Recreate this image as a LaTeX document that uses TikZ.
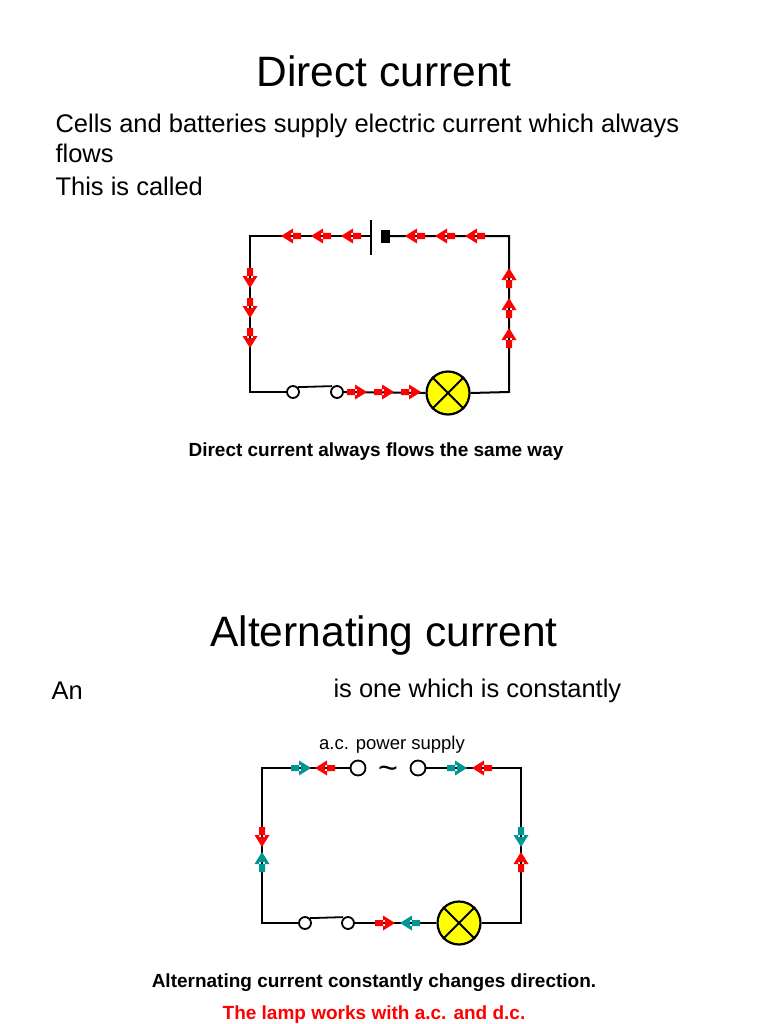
\documentclass[tikz,border=0pt]{standalone}
\usepackage{fontspec}
\setmainfont{Liberation Sans}
\definecolor{teal2}{RGB}{0,150,150}
\definecolor{red2}{RGB}{255,0,0}
\definecolor{lampy}{RGB}{255,255,0}
\newcommand\carrow[4]{\fill[#4,shift={(#1,#2)},rotate=#3] (-11,-3) rectangle (-1,3) (-3,-7.5) -- (9,0) -- (-3,7.5) -- cycle;}
\tikzset{wire/.style={line width=2pt,black},
 term/.style={circle,draw,line width=1.8pt,fill=white,minimum size=12pt,inner sep=0pt},
 lampnode/.style={circle,draw,line width=2.2pt,fill=lampy,minimum size=43pt,inner sep=0pt},
 title/.style={font=\fontsize{42.5}{46}\selectfont},
 body/.style={font=\fontsize{25.5}{28}\selectfont,anchor=west},
 caption/.style={font=\fontsize{19}{22}\selectfont\bfseries}}
\begin{document}
\begin{tikzpicture}[x=1pt,y=1pt]
\useasboundingbox (0,0) rectangle (768,-1024);
% texts
\node[title] at (384,-71) {Direct current};
\node[body] at (52,-126) {Cells and batteries supply electric current which always};
\node[body] at (52,-153) {flows};
\node[body] at (52,-186) {This is called};
\node[caption] (c1) at (376,-452) {Direct current always flows the same way};
\node[title] at (384,-636) {Alternating current};
\node[body] at (48,-691) {An};
\node[body] at (330,-691) {is one which is constantly};
\node[font=\fontsize{18.5}{20}\selectfont] at (392,-745) {a.c. power supply};
\node[caption] at (374,-983) {Alternating current constantly changes direction.};
\node[caption,red2] at (374,-1015) {The lamp works with a.c. and d.c.};
% DC circuit
\coordinate (tl) at (250,-236); \coordinate (tr) at (509,-236);
\coordinate (bl) at (250,-392); \coordinate (br) at (509,-392);
\node[term] (s1) at (293,-392) {};
\node[term] (s2) at (337,-392) {};
\node[lampnode] (L1) at (448,-393) {};
\draw[wire] (371,-236) -- (tl) -- (bl) -- (s1.west);
\draw[wire] (s2.east) -- (L1.west);
\draw[wire] (L1.east) -- (br) -- (tr) -- (388,-236);
\draw[line width=2pt] (371,-220) -- (371,-255);
\fill (381,-230) rectangle (390,-243);
\draw[line width=1.8pt] (s1.north east) -- ([yshift=1pt]s2.north west);
\draw[line width=2pt] (L1.north west) -- (L1.south east) (L1.north east) -- (L1.south west);
\foreach \x in {290,320,350,414,444,474} {\carrow{\x}{-236}{180}{red2}}
\foreach \y in {279,309,339} {\carrow{250}{-\y}{-90}{red2}}
\foreach \y in {277,307,337} {\carrow{509}{-\y}{90}{red2}}
\foreach \x in {358,385,412} {\carrow{\x}{-392}{0}{red2}}
% AC circuit
\coordinate (tl2) at (262,-768); \coordinate (tr2) at (521,-768);
\coordinate (bl2) at (262,-923); \coordinate (br2) at (521,-923);
\node[term,minimum size=15pt] (p1) at (358,-768) {};
\node[term,minimum size=15pt] (p2) at (418,-768) {};
\node[font=\fontsize{34}{36}\selectfont] (tilde) at (388,-773) {\textasciitilde};
\node[term] (s3) at (305,-923) {};
\node[term] (s4) at (348,-923) {};
\node[lampnode] (L2) at (459,-923) {};
\draw[wire] (p1.west) -- (tl2) -- (bl2) -- (s3.west);
\draw[wire] (s4.east) -- (L2.west);
\draw[wire] (L2.east) -- (br2) -- (tr2) -- (p2.east);
\draw[line width=1.8pt] (s3.north east) -- ([yshift=1pt]s4.north west);
\draw[line width=2pt] (L2.north west) -- (L2.south east) (L2.north east) -- (L2.south west);
\carrow{302}{-768}{0}{teal2}
\carrow{324}{-768}{180}{red2}
\carrow{458}{-768}{0}{teal2}
\carrow{481}{-768}{180}{red2}
\carrow{262}{-838}{-90}{red2}
\carrow{262}{-861}{90}{teal2}
\carrow{521}{-838}{-90}{teal2}
\carrow{521}{-861}{90}{red2}
\carrow{386}{-923}{0}{red2}
\carrow{409}{-923}{180}{teal2}
\end{tikzpicture}
\end{document}
